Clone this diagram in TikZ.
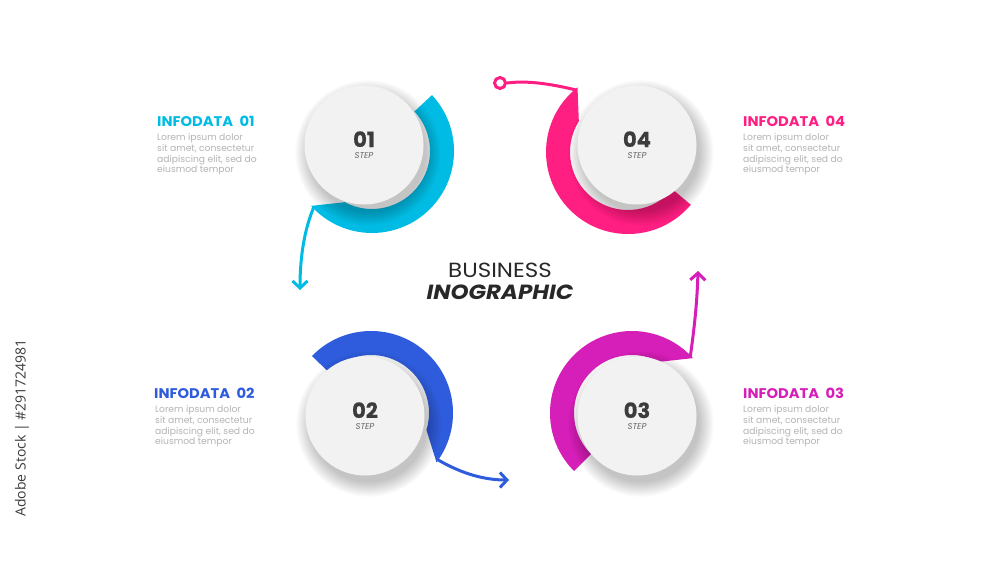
\documentclass[tikz,border=0pt]{standalone}
\usepackage{fontspec}
\setmainfont{Poppins}
\newfontfamily\opensans{Open Sans}
\newfontfamily\heavyfont{Poppins}[BoldFeatures={FakeBold=0.6}]
\usetikzlibrary{arrows.meta,calc}
\definecolor{cyanA}{RGB}{0,188,228}
\definecolor{blueA}{RGB}{46,92,220}
\definecolor{magA}{RGB}{214,30,184}
\definecolor{pinkA}{RGB}{255,30,130}
\definecolor{circgray}{RGB}{242,242,242}
\definecolor{numgray}{RGB}{60,60,60}
\definecolor{bodygray}{RGB}{180,180,180}
\definecolor{titledark}{RGB}{40,40,40}
\tikzset{
  stepcircle/.style={circle, minimum size=119pt, inner sep=0pt, fill=circgray},
  softshadow/.style={fill=black, fill opacity=0.018, draw=none},
  numtext/.style={anchor=base, text=numgray, font=\heavyfont\bfseries\fontsize{21}{21}\selectfont},
  steptext/.style={anchor=base, text=numgray!80, font=\itshape\fontsize{8.5}{8.5}\selectfont},
  infotitle/.style={anchor=base west, inner sep=0pt, xscale=1.05, font=\bfseries\fontsize{14}{14}\selectfont},
  infobody/.style={anchor=north west, inner sep=0pt, align=left, text=bodygray,
    font=\fontsize{9.2}{10.9}\selectfont},
  flowarrow/.style={line width=3pt, -{Straight Barb[length=7pt,width=15pt]}},
  centertitle/.style={anchor=base, text=titledark, xscale=1.12},
}
\begin{document}
\begin{tikzpicture}[x=1pt,y=-1pt]
\useasboundingbox (0,0) rectangle (1000,563);
\fill[white] (0,0) rectangle (1000,563);

% centres
\coordinate (c1) at (364,145);
\coordinate (c2) at (365,416);
\coordinate (c3) at (637,416);
\coordinate (c4) at (637,145);
\coordinate (r1) at (372,151);
\coordinate (r2) at (371,413);
\coordinate (r3) at (632,413);
\coordinate (r4) at (628,152);

% ring 01
\fill[cyanA] ($(r1)+(-43:82)$) arc[start angle=-43,end angle=138,radius=82]
  -- ($(r1)+(118:58)$) arc[start angle=118,end angle=-43,radius=58] -- cycle;
\coordinate (e1) at ($(r1)+(136:81)$);
\coordinate (t1) at (300,290);
\draw[cyanA, flowarrow] (e1) .. controls (305,228) and (300,255) .. (t1);

% ring 02
\fill[blueA] ($(r2)+(224:82)$) arc[start angle=224,end angle=397,radius=82]
  -- ($(r2)+(377:58)$) arc[start angle=377,end angle=224,radius=58] -- cycle;
\coordinate (e2) at ($(r2)+(35:81)$);
\coordinate (t2) at (509,480);
\draw[blueA, flowarrow] (e2) .. controls (462,474) and (485,480) .. (t2);

% ring 03
\fill[magA] ($(r3)+(135:82)$) arc[start angle=135,end angle=318,radius=82]
  -- ($(r3)+(298:58)$) arc[start angle=298,end angle=135,radius=58] -- cycle;
\coordinate (e3) at ($(r3)+(316:81)$);
\coordinate (t3) at (698,271);
\draw[magA, flowarrow] (e3) .. controls (694,330) and (697,305) .. (t3);

% ring 04
\fill[pinkA] ($(r4)+(40:82)$) arc[start angle=40,end angle=232,radius=82]
  -- ($(r4)+(212:58)$) arc[start angle=212,end angle=40,radius=58] -- cycle;
\coordinate (e4) at ($(r4)+(230:81)$);
\node[circle, draw=pinkA, line width=3pt, fill=white, minimum size=11pt, inner sep=0pt] (m4) at (500,83) {};
\draw[pinkA, line width=3pt] (m4.east) .. controls (530,80) and (555,85) .. (e4);

% soft shadows
\foreach \c in {c1,c2,c3,c4}{
  \foreach \k in {1,...,12}{
    \fill[softshadow] ($(\c)+(4,8)$) circle[radius={57+\k*1.3}];
  }
}

% circles
\node[stepcircle] (n1) at (c1) {};
\node[stepcircle] (n2) at (c2) {};
\node[stepcircle] (n3) at (c3) {};
\node[stepcircle] (n4) at (c4) {};

\node[numtext] (k1) at ($(c1)+(0,2)$) {01};
\node[steptext] (s1) at ($(c1)+(0,13)$) {STEP};
\node[numtext] (k2) at ($(c2)+(0,2)$) {02};
\node[steptext] (s2) at ($(c2)+(0,13)$) {STEP};
\node[numtext] (k3) at ($(c3)+(0,2)$) {03};
\node[steptext] (s3) at ($(c3)+(0,13)$) {STEP};
\node[numtext] (k4) at ($(c4)+(0,2)$) {04};
\node[steptext] (s4) at ($(c4)+(0,13)$) {STEP};

% info blocks
\node[infotitle, text=cyanA] (h1) at (157,126) {INFODATA\hspace{6pt}01};
\node[infobody] (b1) at (157,133) {Lorem ipsum dolor\\sit amet, consectetur\\adipiscing elit, sed do\\eiusmod tempor};
\node[infotitle, text=blueA] (h2) at (154,398) {INFODATA\hspace{6pt}02};
\node[infobody] (b2) at (155,405) {Lorem ipsum dolor\\sit amet, consectetur\\adipiscing elit, sed do\\eiusmod tempor};
\node[infotitle, text=magA] (h3) at (743,398) {INFODATA\hspace{6pt}03};
\node[infobody] (b3) at (743,405) {Lorem ipsum dolor\\sit amet, consectetur\\adipiscing elit, sed do\\eiusmod tempor};
\node[infotitle, text=pinkA] (h4) at (743,126) {INFODATA\hspace{6pt}04};
\node[infobody] (b4) at (743,133) {Lorem ipsum dolor\\sit amet, consectetur\\adipiscing elit, sed do\\eiusmod tempor};

% centre title
\node[centertitle, font=\fontsize{20.5}{20.5}\selectfont] (tt1) at (500,277) {BUSINESS};
\node[centertitle, font=\heavyfont\bfseries\itshape\fontsize{20.5}{20.5}\selectfont] (tt2) at (500,299) {INOGRAPHIC};

% side text
\node[rotate=90, text=numgray, font=\opensans\fontsize{14}{14}\selectfont] (side) at (22,428) {Adobe Stock | \#291724981};
\end{tikzpicture}
\end{document}
